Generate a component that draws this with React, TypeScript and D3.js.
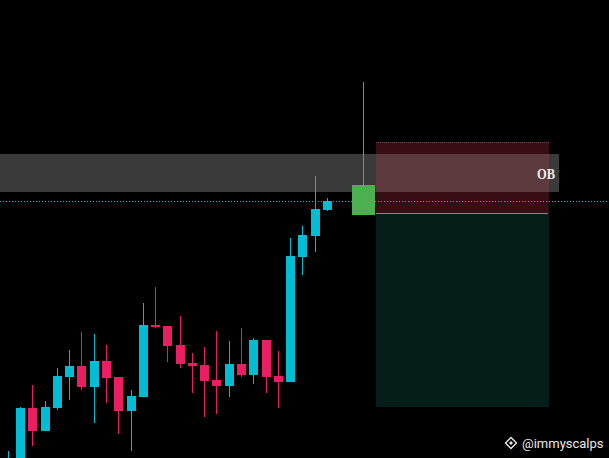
import React from 'react';
import * as d3 from 'd3';

const W = 609;
const H = 458;

// Candles (price units; bar index 0..26)
const opens = [-22, -12, 50, 27, 50, 81, 92, 71, 97, 81, 47, 61, 133, 132, 113, 95, 93, 78, 72, 94, 83, 118, 82, 76, 201, 222, 248];
const highs = [7, 51, 73, 57, 90, 108, 126, 124, 113, 81, 68, 155, 171, 132, 142, 105, 111, 127, 117, 130, 120, 118, 107, 220, 232, 282, 260];
const lows = [-32, -22, 12, 27, 48, 58, 68, 35, 55, 24, 7, 61, 130, 96, 90, 65, 41, 44, 61, 81, 74, 65, 50, 76, 183, 206, 247];
const closes = [-4, 50, 27, 51, 82, 92, 71, 97, 80, 47, 62, 133, 131, 112, 94, 92, 77, 72, 94, 83, 118, 81, 76, 202, 223, 249, 257];

// Higher-timeframe candle
const htfIndex = 29;
const htfOHLC = [243, 376, 243, 273];

// Zones: [startIndex, endIndex, lowPrice, highPrice]
const bandZone = [-0.7, 44.85, 266, 304];
const obZone = [29.95, 44.04, 245, 316];
const targetZone = [29.95, 44.04, 51, 244];
const lastPrice = 257;

const obLabel = 'OB';
const watermark = '@immyscalps';

const UP = '#00bcd4';
const DOWN = '#e91e63';

export default function App() {
  const x = d3.scaleLinear().domain([0, 1]).range([8.2, 20.48]);
  const y = d3.scaleLinear().domain([0, H]).range([H, 0]);

  const bodyW = 9;
  const candles = opens.map((o, i) => ({ i, o, h: highs[i], l: lows[i], c: closes[i] }));

  const rectOf = (z: number[]) => {
    const x0 = Math.round(x(z[0]));
    const x1 = Math.round(x(z[1]));
    const y0 = Math.round(y(z[3]));
    const y1 = Math.round(y(z[2]));
    return { x: x0, y: y0, w: x1 - x0, h: y1 - y0 };
  };
  const band = rectOf(bandZone);
  const ob = rectOf(obZone);
  const tgt = rectOf(targetZone);
  const ovX0 = Math.max(band.x, ob.x);
  const ovX1 = Math.min(band.x + band.w, ob.x + ob.w);
  const ovY0 = Math.max(band.y, ob.y);
  const ovY1 = Math.min(band.y + band.h, ob.y + ob.h);

  const htfW = 23;
  const htfX = Math.floor(x(htfIndex) - htfW / 2);
  const [ho, hh, hl, hc] = htfOHLC;

  const lp = Math.round(y(lastPrice)) + 0.5;

  return (
    <>
      <style>{`body{margin:0;background:#000}`}</style>
      <svg width={W} height={H} style={{ display: 'block', background: '#000' }}>
        <rect x={0} y={0} width={W} height={H} fill="#000" />
        <rect x={tgt.x} y={tgt.y} width={tgt.w} height={tgt.h} fill="#051e1a" />
        <rect x={ob.x} y={ob.y} width={ob.w} height={ob.h} fill="#360e13" />
        <line x1={ob.x} x2={ob.x + ob.w} y1={ob.y + 0.5} y2={ob.y + 0.5} stroke="#7a4850" strokeDasharray="1 1" />
        <rect x={band.x} y={band.y} width={band.w} height={band.h} fill="#3a3a3a" />
        <rect x={ovX0} y={ovY0} width={ovX1 - ovX0} height={ovY1 - ovY0} fill="#5c3a3e" />
        <line x1={ob.x} x2={ob.x + ob.w - 1} y1={ob.y + ob.h + 0.5} y2={ob.y + ob.h + 0.5} stroke="#8e8686" />
        <text
          x={band.x + band.w - 4}
          y={band.y + band.h / 2 + 1}
          textAnchor="end"
          dominantBaseline="central"
          fontFamily="'Liberation Serif', serif"
          fontWeight="bold"
          fontSize={15}
          textLength={18}
          lengthAdjust="spacingAndGlyphs"
          fill="#ececec"
        >
          {obLabel}
        </text>
        <line x1={0} x2={W} y1={lp} y2={lp} stroke={UP} strokeDasharray="1 2" />
        {candles.map((d) => {
          const col = d.c >= d.o ? UP : DOWN;
          const left = Math.round(x(d.i) - bodyW / 2);
          const top = Math.round(y(Math.max(d.o, d.c)));
          const bot = Math.round(y(Math.min(d.o, d.c)));
          return (
            <g key={d.i}>
              <line x1={left + 4.5} x2={left + 4.5} y1={Math.round(y(d.h))} y2={Math.round(y(d.l))} stroke={col} strokeWidth={1} />
              <rect x={left} y={top} width={bodyW} height={Math.max(1, bot - top)} fill={col} />
            </g>
          );
        })}
        <line x1={htfX + 11.5} x2={htfX + 11.5} y1={Math.round(y(hh))} y2={Math.round(y(hl))} stroke="#4caf50" />
        <rect
          x={htfX}
          y={Math.round(y(Math.max(ho, hc)))}
          width={htfW}
          height={Math.round(y(Math.min(ho, hc))) - Math.round(y(Math.max(ho, hc)))}
          fill="#4caf50"
        />
        <g transform="translate(511,443)" fill="none" stroke="#e8e8e8" strokeWidth={1.4}>
          <path d="M0,-5.5 L5.5,0 L0,5.5 L-5.5,0 Z" />
          <path d="M0,-2 L2,0 L0,2 L-2,0 Z" fill="#e8e8e8" stroke="none" />
        </g>
        <text x={522} y={448} fontFamily="Roboto, sans-serif" fontSize={13} fill="#e8e8e8">
          {watermark}
        </text>
      </svg>
    </>
  );
}
